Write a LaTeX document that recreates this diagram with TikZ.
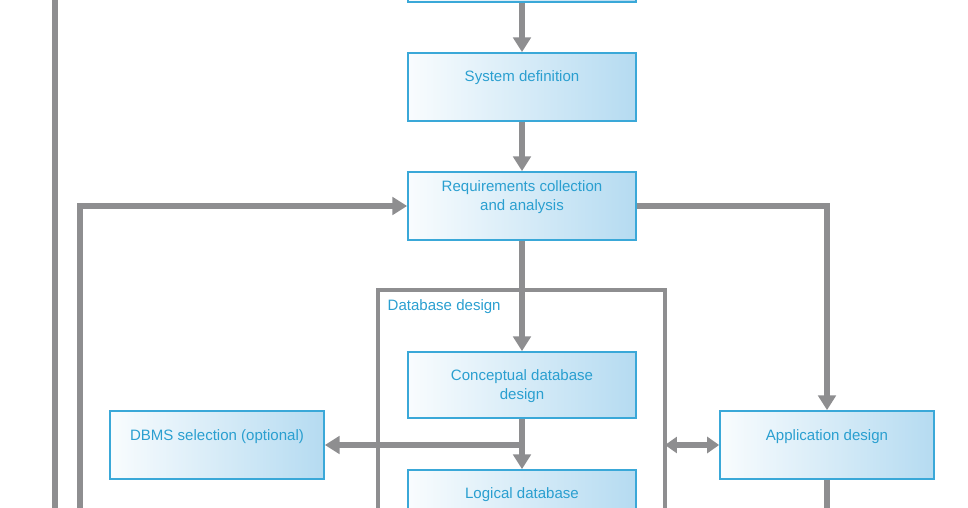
\documentclass[tikz,border=0pt]{standalone}
\usepackage{fontspec}
\setmainfont{Liberation Sans}
\usetikzlibrary{arrows.meta}
\definecolor{bord}{HTML}{3AA8D8}
\definecolor{txt}{HTML}{2A9FD0}
\definecolor{lin}{HTML}{8E8E90}
\definecolor{fillR}{HTML}{B5DBF1}
\tikzset{
  box/.style={draw=bord, line width=1.3pt, left color=white!92!fillR, right color=fillR, text=txt, font=\fontsize{11.3}{14}\selectfont, align=center, inner sep=0pt},
  conn/.style={draw=lin, line width=3.8pt, -{Triangle[length=11pt,width=13pt]}},
  plain/.style={draw=lin, line width=3.8pt},
}
\begin{document}
\begin{tikzpicture}[x=0.0264cm,y=-0.0264cm]
\useasboundingbox (0,0) rectangle (968,508);
% frame
\draw[lin, line width=2.3pt] (378,520) -- (378,290) -- (665,290) -- (665,520);
\node[text=txt, font=\fontsize{11.3}{14}\selectfont, anchor=west] (dbl) at (383,307) {Database design};
% boxes
\node[box, minimum width=228*0.0264cm, minimum height=68*0.0264cm] (top) at (522,-32) {};
\node[box, minimum width=228*0.0264cm, minimum height=68*0.0264cm] (sys) at (522,87) {};
\node[text=txt, font=\fontsize{11.3}{14}\selectfont] at (522,78) {System definition};
\node[box, minimum width=228*0.0264cm, minimum height=68*0.0264cm] (req) at (522,206) {};
\node[text=txt, font=\fontsize{11.3}{14}\selectfont, align=center] at (522,197) {Requirements collection\\and analysis};
\node[box, minimum width=228*0.0264cm, minimum height=66*0.0264cm] (con) at (522,385) {};
\node[text=txt, font=\fontsize{11.3}{14}\selectfont, align=center] at (522,386) {Conceptual database\\design};
\node[box, minimum width=214*0.0264cm, minimum height=68*0.0264cm] (dbms) at (217,445) {};
\node[text=txt, font=\fontsize{11.3}{14}\selectfont] at (217,437) {DBMS selection (optional)};
\node[box, minimum width=214*0.0264cm, minimum height=68*0.0264cm] (app) at (827,445) {};
\node[text=txt, font=\fontsize{11.3}{14}\selectfont] at (827,437) {Application design};
\node[box, minimum width=228*0.0264cm, minimum height=68*0.0264cm] (log) at (522,504) {};
\node[text=txt, font=\fontsize{11.3}{14}\selectfont] at (522,495) {Logical database};
% connectors
\coordinate (l1) at (55,-5);
\coordinate (l2) at (55,515);
\draw[plain] (l1) -- (l2);
\coordinate (b1) at (80,515);
\draw[conn] (b1) |- (req.west);
\draw[conn] (top.south) -- (sys.north);
\draw[conn] (sys.south) -- (req.north);
\draw[conn] (req.east) -| (app.north);
\draw[conn] (req.south) -- (con.north);
\coordinate (br) at (521,445);
\draw[conn] (con.south) -- (log.north);
\draw[conn] (br) -- (dbms.east);
\coordinate (fr) at (665,445);
\draw[draw=lin, line width=3.8pt, {Triangle[length=9pt,width=12pt]}-{Triangle[length=9pt,width=12pt]}] (fr) -- (app.west);
\coordinate (ab) at (827,515);
\draw[plain] (app.south) -- (ab);
\end{tikzpicture}
\end{document}
